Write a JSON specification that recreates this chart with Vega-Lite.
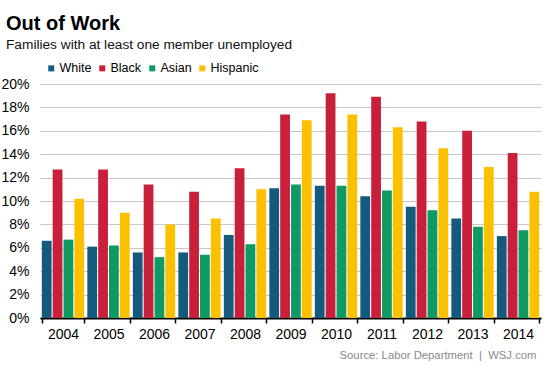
{
  "$schema": "https://vega.github.io/schema/vega-lite/v6.json",
  "width": 501,
  "height": 234,
  "autosize": {"type": "none"},
  "padding": {"left": 40, "top": 84, "right": 12, "bottom": 51},
  "background": "white",
  "title": {
    "text": "Out of Work",
    "subtitle": "Families with at least one member unemployed",
    "anchor": "start",
    "frame": "group",
    "dx": -34,
    "offset": 10,
    "font": "Liberation Sans",
    "fontSize": 20,
    "fontWeight": "bold",
    "color": "#000000",
    "subtitleFont": "Liberation Sans",
    "subtitleFontSize": 13.7,
    "subtitleColor": "#111111",
    "subtitlePadding": 4
  },
  "data": {
    "values": [
      {"year": "2004", "group": "White", "value": 6.6},
      {"year": "2004", "group": "Black", "value": 12.7},
      {"year": "2004", "group": "Asian", "value": 6.7},
      {"year": "2004", "group": "Hispanic", "value": 10.2},
      {"year": "2005", "group": "White", "value": 6.1},
      {"year": "2005", "group": "Black", "value": 12.7},
      {"year": "2005", "group": "Asian", "value": 6.2},
      {"year": "2005", "group": "Hispanic", "value": 9.0},
      {"year": "2006", "group": "White", "value": 5.6},
      {"year": "2006", "group": "Black", "value": 11.4},
      {"year": "2006", "group": "Asian", "value": 5.2},
      {"year": "2006", "group": "Hispanic", "value": 8.0},
      {"year": "2007", "group": "White", "value": 5.6},
      {"year": "2007", "group": "Black", "value": 10.8},
      {"year": "2007", "group": "Asian", "value": 5.4},
      {"year": "2007", "group": "Hispanic", "value": 8.5},
      {"year": "2008", "group": "White", "value": 7.1},
      {"year": "2008", "group": "Black", "value": 12.8},
      {"year": "2008", "group": "Asian", "value": 6.3},
      {"year": "2008", "group": "Hispanic", "value": 11.0},
      {"year": "2009", "group": "White", "value": 11.1},
      {"year": "2009", "group": "Black", "value": 17.4},
      {"year": "2009", "group": "Asian", "value": 11.4},
      {"year": "2009", "group": "Hispanic", "value": 16.9},
      {"year": "2010", "group": "White", "value": 11.3},
      {"year": "2010", "group": "Black", "value": 19.2},
      {"year": "2010", "group": "Asian", "value": 11.3},
      {"year": "2010", "group": "Hispanic", "value": 17.4},
      {"year": "2011", "group": "White", "value": 10.4},
      {"year": "2011", "group": "Black", "value": 18.9},
      {"year": "2011", "group": "Asian", "value": 10.9},
      {"year": "2011", "group": "Hispanic", "value": 16.3},
      {"year": "2012", "group": "White", "value": 9.5},
      {"year": "2012", "group": "Black", "value": 16.8},
      {"year": "2012", "group": "Asian", "value": 9.2},
      {"year": "2012", "group": "Hispanic", "value": 14.5},
      {"year": "2013", "group": "White", "value": 8.5},
      {"year": "2013", "group": "Black", "value": 16.0},
      {"year": "2013", "group": "Asian", "value": 7.8},
      {"year": "2013", "group": "Hispanic", "value": 12.9},
      {"year": "2014", "group": "White", "value": 7.0},
      {"year": "2014", "group": "Black", "value": 14.1},
      {"year": "2014", "group": "Asian", "value": 7.5},
      {"year": "2014", "group": "Hispanic", "value": 10.8}
    ]
  },
  "mark": {"type": "bar"},
  "encoding": {
    "x": {
      "field": "year",
      "type": "nominal",
      "scale": {"paddingInner": 0.07, "paddingOuter": 0.04},
      "axis": {
        "title": "Source: Labor Department\u00a0\u00a0|\u00a0\u00a0WSJ.com",
        "titleAnchor": "end",
        "titleFont": "Liberation Sans",
        "titleFontSize": 11.3,
        "titleFontWeight": "normal",
        "titleColor": "#8a8a8a",
        "titlePadding": 8,
        "titleX": 496,
        "labelAngle": 0,
        "labelFont": "Liberation Sans",
        "labelFontSize": 14,
        "labelColor": "#000000",
        "labelPadding": 4,
        "domainColor": "#000000",
        "domainWidth": 2,
        "tickColor": "#000000",
        "tickWidth": 1.5,
        "tickSize": 5,
        "tickBand": "extent",
        "grid": false
      }
    },
    "xOffset": {
      "field": "group",
      "type": "nominal",
      "sort": ["White", "Black", "Asian", "Hispanic"],
      "scale": {"paddingInner": 0.1}
    },
    "y": {
      "field": "value",
      "type": "quantitative",
      "scale": {"domain": [0, 20]},
      "axis": {
        "title": null,
        "values": [0, 2, 4, 6, 8, 10, 12, 14, 16, 18, 20],
        "labelExpr": "datum.value + '%'",
        "labelFont": "Liberation Sans",
        "labelFontSize": 14,
        "labelColor": "#000000",
        "labelPadding": 11,
        "ticks": false,
        "domain": false,
        "grid": true,
        "gridColor": "#c8c8c8",
        "gridWidth": 1
      }
    },
    "color": {
      "field": "group",
      "type": "nominal",
      "sort": ["White", "Black", "Asian", "Hispanic"],
      "scale": {
        "domain": ["White", "Black", "Asian", "Hispanic"],
        "range": ["#135a7c", "#c8203a", "#0e9a62", "#fbc100"]
      },
      "legend": {
        "title": null,
        "orient": "none",
        "direction": "horizontal",
        "legendX": 5,
        "legendY": -22,
        "symbolType": "square",
        "symbolSize": 36,
        "symbolStrokeWidth": 0,
        "labelFont": "Liberation Sans",
        "labelFontSize": 12.5,
        "labelColor": "#000000",
        "labelOffset": 2,
        "columnPadding": 4
      }
    }
  },
  "config": {
    "view": {"stroke": null}
  }
}
